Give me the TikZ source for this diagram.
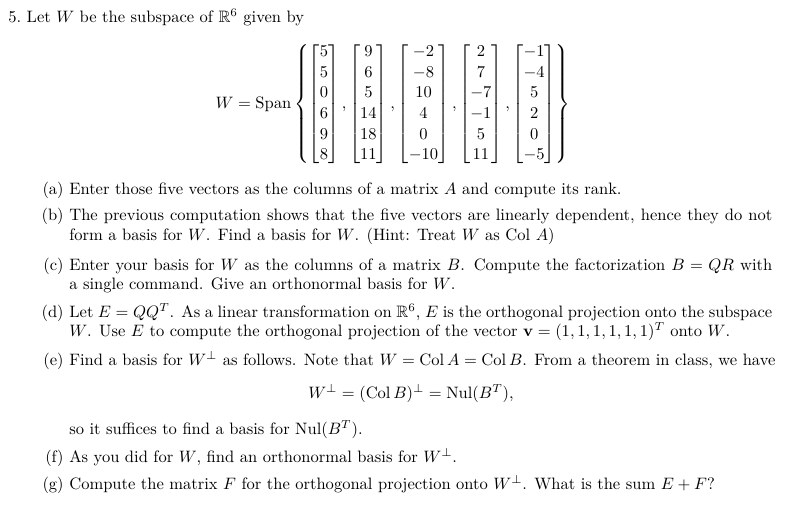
\documentclass[tikz,border=0pt]{standalone}
\usepackage{amsmath,amssymb}
\begin{document}
\begin{tikzpicture}[x=0.605pt,y=-0.605pt,
  txt/.style={anchor=base west,inner sep=0pt},
  lab/.style={anchor=base east,inner sep=0pt},
  para/.style={anchor=base west,inner sep=0pt,text width=425.3pt,align=justify}]
\useasboundingbox[fill=white] (0,0) rectangle (791,513);
\node[txt] (t0) at (8,23) {5.\ Let $W$ be the subspace of $\mathbb{R}^6$ given by};
\node[inner sep=0pt] (m) at (393,104) {\renewcommand{\arraystretch}{1.04}$W=\operatorname{Span}\left\{
\begin{bmatrix}5\\5\\0\\6\\9\\8\end{bmatrix},
\begin{bmatrix}9\\6\\5\\14\\18\\11\end{bmatrix},
\begin{bmatrix}-2\\-8\\10\\4\\0\\-10\end{bmatrix},
\begin{bmatrix}2\\7\\-7\\-1\\5\\11\end{bmatrix},
\begin{bmatrix}-1\\-4\\5\\2\\0\\-5\end{bmatrix}\right\}$};
\node[lab] (la) at (64,195) {(a)};
\node[txt] (a) at (69,195) {Enter those five vectors as the columns of a matrix $A$ and compute its rank.};
\node[lab] (lb) at (64,221) {(b)};
\node[para] (b) at (69,221) {The previous computation shows that the five vectors are linearly dependent, hence they do not\linebreak form a basis for $W$. Find a basis for $W$. (Hint: Treat $W$ as Col $A$)};
\node[lab] (lc) at (64,270) {(c)};
\node[para] (c) at (69,270) {Enter your basis for $W$ as the columns of a matrix $B$. Compute the factorization $B=QR$ with\linebreak a single command. Give an orthonormal basis for $W$.};
\node[lab] (ld) at (64,317) {(d)};
\node[para] (d) at (69,317) {Let $E=QQ^T$. As a linear transformation on $\mathbb{R}^6$, $E$ is the orthogonal projection onto the subspace\linebreak $W$. Use $E$ to compute the orthogonal projection of the vector $\mathbf{v}=(1,1,1,1,1,1)^T$ onto $W$.};
\node[lab] (le) at (64,365) {(e)};
\node[txt] (e) at (69,365) {Find a basis for $W^\perp$ as follows. Note that $W=\operatorname{Col}A=\operatorname{Col}B$. From a theorem in class, we have};
\node[anchor=base,inner sep=0pt] (eq) at (411,398) {$W^\perp=(\operatorname{Col}B)^\perp=\operatorname{Nul}(B^T),$};
\node[txt] (e2) at (69,434) {so it suffices to find a basis for $\operatorname{Nul}(B^T)$.};
\node[lab] (lf) at (64,462) {(f)};
\node[txt] (f) at (69,462) {As you did for $W$, find an orthonormal basis for $W^\perp$.};
\node[lab] (lg) at (64,489) {(g)};
\node[txt] (g) at (69,489) {Compute the matrix $F$ for the orthogonal projection onto $W^\perp$. What is the sum $E+F$?};
\end{tikzpicture}
\end{document}
